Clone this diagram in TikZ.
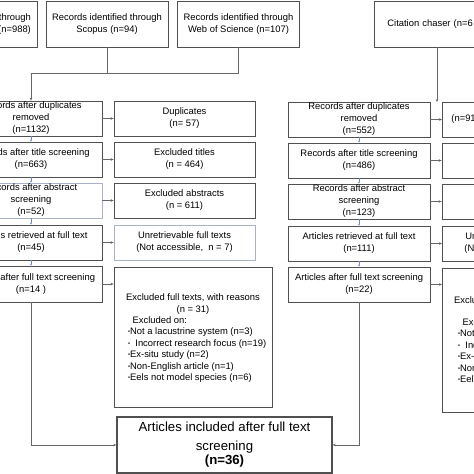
\documentclass[tikz,border=0pt]{standalone}
\usepackage{fontspec}
\setmainfont{Liberation Sans}
\usetikzlibrary{arrows.meta}
\definecolor{boxgray}{HTML}{505050}
\definecolor{linegray}{HTML}{666666}
\definecolor{palebox}{HTML}{A8B3C8}
\definecolor{stepblue}{HTML}{7088C0}
\newcommand{\fs}{\fontsize{9.4}{12}\selectfont}
\newcommand{\fb}{\fontsize{13.2}{16}\selectfont}

\begin{document}
\begin{tikzpicture}[x=1pt, y=-1pt,
    box/.style={draw=boxgray, line width=0.8pt, inner sep=0pt, align=center,
        minimum width=142pt, minimum height=35pt, font=\fs},
    exbox/.style={box, minimum width=141pt},
    srcbox/.style={box, minimum width=122pt, minimum height=46pt},
    leftbox/.style={align=left, anchor=west, text width=#1},
    pale/.style={draw=palebox},
    flow/.style={draw=linegray, line width=0.6pt},
    tip/.style={flow, -{Stealth[length=3pt, width=2.6pt]}},
    stepdown/.style={draw=stepblue, line width=0.4pt, -{Stealth[length=2pt, width=2pt]}}]
\newcommand{\bul}{\raisebox{1pt}{\scalebox{0.6}{•}}}
\useasboundingbox (0,0) rectangle (474,474);
\clip (0,0) rectangle (474,474);

% sources
\node[srcbox, align=right] (src1) at (-24,24) {Records identified through\\(n=988)};
\node[srcbox] (src2) at (107,24) {Records identified through\\Scopus (n=94)};
\node[srcbox] (src3) at (238.5,24) {Records identified through\\Web of Science (n=107)};
\node[srcbox, leftbox=126pt] (cit) at (374,24) {\hspace*{13pt}Citation chaser (n=6};
\coordinate (mrg) at (31,73);

% left column
\node[box] (l1) at (31,118.5) {Records after duplicates\\removed\\(n=1132)};
\node[box] (l2) at (31,159.5) {Records after title screening\\(n=663)};
\node[box, pale] (l3) at (31,200.5) {Records after abstract\\screening\\(n=52)};
\node[box] (l4) at (31,242.5) {Articles retrieved at full text\\(n=45)};
\node[box, minimum height=36pt] (l5) at (31,284) {Articles after full text screening\\(n=14 )};

\node[exbox] (d1) at (184.5,118.5) {Duplicates\\(n= 57)};
\node[exbox] (d2) at (184.5,159.5) {Excluded titles\\(n = 464)};
\node[exbox] (d3) at (184.5,200.5) {Excluded abstracts\\(n = 611)};
\node[exbox, pale] (d4) at (184.5,242.5) {Unretrievable full texts\\(Not accessible,\ \ n = 7)};
\node[box, minimum width=158pt, minimum height=140pt] (d5) at (193,337) {};
\node[font=\fs, align=center] (d5t) at (193,304) {Excluded full texts, with reasons\\(n = 31)};
\node[font=\fontsize{9.4}{11.4}\selectfont, align=left, anchor=west, inner sep=0pt] (d5l) at (128,349.5)
    {\hspace{4.5pt}Excluded on:\\
     \bul Not a lacustrine system (n=3)\\
     \bul\ \ Incorrect research focus (n=19)\\
     \bul Ex-situ study (n=2)\\
     \bul Non-English article (n=1)\\
     \bul Eels not model species (n=6)};

% right column
\node[box] (r1) at (359,119.5) {Records after duplicates\\removed\\(n=552)};
\node[box] (r2) at (359,160.5) {Records after title screening\\(n=486)};
\node[box] (r3) at (359,201.5) {Records after abstract\\screening\\(n=123)};
\node[box] (r4) at (359,243.5) {Articles retrieved at full text\\(n=111)};
\node[box] (r5) at (359,284.5) {Articles after full text screening\\(n=22)};

\node[exbox, leftbox=141pt] (e1) at (442,119.5) {\hspace*{9pt}(n=91)};
\node[exbox] (e2) at (512.5,160.5) {};
\node[exbox] (e3) at (512.5,201.5) {};
\node[exbox, leftbox=141pt] (e4) at (442,243.5) {\hspace*{23pt}Unretrievable full texts\\\hspace*{22pt}(Not accessible,};
\node[box, minimum width=158pt, minimum height=144pt, anchor=north west] (e5) at (442,268) {};
\node[font=\fs, anchor=west, inner sep=0pt] (e5t) at (454,301) {Excluded full texts, with reasons};
\node[font=\fontsize{9.4}{11.4}\selectfont, align=left, anchor=west, inner sep=0pt] (e5l) at (458,351.5)
    {\hspace{4.5pt}Excluded on:\\
     \bul Not a lacustrine system\\
     \bul\ \ Incorrect research focus\\
     \bul Ex-situ study\\
     \bul Non-English article\\
     \bul Eels not model species};

% result
\node[box, line width=1.4pt, minimum width=215pt, minimum height=56pt, font=\fb] (fin) at (224.5,445)
    {Articles included after full text\\[3pt]screening\\[-2pt]\textbf{(n=36)}};

% connectors
\draw[flow] (src3.south) |- (mrg);
\draw[flow] (src2.south) -- (src2.south |- mrg);
\draw[tip] (mrg) -- (l1.north);
\draw[tip] (cit.south -| 437,0) -- (437,102);
\foreach \a/\b in {l1/l2, l2/l3, l3/l4, l4/l5, r1/r2, r2/r3, r3/r4, r4/r5}
    \draw[stepdown] (\a.south) -- (\b.north);
\foreach \a/\b in {l1/d1, l2/d2, l3/d3, l4/d4, l5/d5, r1/e1, r2/e2, r3/e3, r4/e4}
    \draw[tip] (\a.east) -- (\a.east -| \b.west);
\draw[tip] (r5.east) -- (r5.east -| e5.west);
\draw[tip] (l5.south) |- (fin.west);
\draw[tip] (r5.south) |- (fin.east);
\end{tikzpicture}
\end{document}
